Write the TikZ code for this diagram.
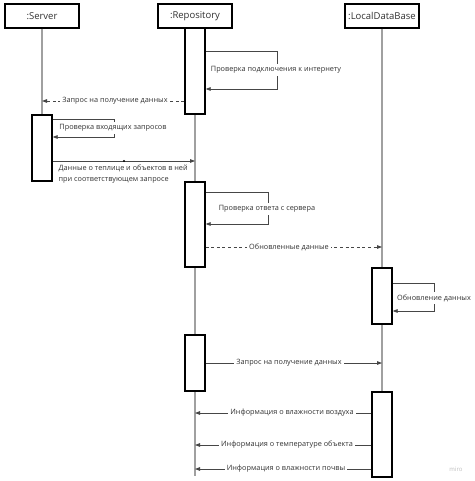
\documentclass[tikz,border=0pt]{standalone}
\usepackage{fontspec}
\setmainfont{Open Sans}
\usetikzlibrary{arrows.meta}
\definecolor{lifegray}{RGB}{160,160,160}
\definecolor{msggray}{RGB}{70,70,70}
\definecolor{txtgray}{RGB}{50,50,50}
\tikzset{
  objbox/.style={draw=black, line width=1.3pt, fill=white, minimum width=74pt, minimum height=24pt, inner sep=0pt, font=\fontsize{9.5}{11}\selectfont, text=txtgray},
  actbox/.style={draw=black, line width=1.3pt, fill=white, minimum width=20pt, inner sep=0pt},
  lifeline/.style={draw=lifegray, line width=1.2pt},
  msg/.style={draw=msggray, line width=0.8pt, -{Triangle[length=5pt,width=3.6pt]}},
  dmsg/.style={msg, dash pattern=on 3pt off 2.6pt},
  lbl/.style={fill=white, inner sep=2.2pt, font=\fontsize{7.3}{9}\selectfont, text=txtgray},
  lblleft/.style={inner sep=0pt, font=\fontsize{7.3}{11}\selectfont, text=txtgray, align=left, anchor=north west}
}
\begin{document}
\begin{tikzpicture}[x=1pt,y=-1pt]
\useasboundingbox (0,0) rectangle (474,481);
\fill[white] (0,0) rectangle (474,481);
% objects
\node[objbox] (srv) at (42,16) {:Server};
\node[objbox] (rep) at (195,16) {:Repository};
\node[objbox] (ldb) at (382,16) {:LocalDataBase};
% lifeline ends
\coordinate (repend) at (195,476);
% activations (positions only)
\coordinate (pS1) at (42,148);
\coordinate (pR1) at (195,71);
\coordinate (pR2) at (195,224.5);
\coordinate (pL1) at (382,296);
\coordinate (pR3) at (195,363);
\coordinate (pL2) at (382,434.5);
% lifelines
\draw[lifeline] (rep.south) -- (repend);
\draw[lifeline] (srv.south) -- (42,115);
\draw[lifeline] (ldb.south) -- (382,392);
% activation boxes
\node[actbox, minimum height=86pt] (R1) at (pR1) {};
\node[actbox, minimum height=66pt] (S1) at (pS1) {};
\node[actbox, minimum height=85pt] (R2) at (pR2) {};
\node[actbox, minimum height=56pt] (L1) at (pL1) {};
\node[actbox, minimum height=56pt] (R3) at (pR3) {};
\node[actbox, minimum height=85pt] (L2) at (pL2) {};

% self loop R1
\draw[msg] (R1.east |- 0,51) -- (277,51) -- (277,89) -- (R1.east |- 0,89);
\node[lbl] (t1) at (276,70) {Проверка подключения к интернету};
% dashed request to server
\draw[dmsg] (R1.west |- 0,101) -- (srv.south |- 0,101);
\node[lbl] (t2) at (115,101) {Запрос на получение данных};
% self loop S1
\draw[msg] (S1.east |- 0,119) -- (114,119) -- (114,137) -- (S1.east |- 0,137);
\node[lbl] (t3) at (113,128) {Проверка входящих запросов};
% data to repository
\draw[msg] (S1.east |- 0,161) -- (rep.south |- 0,161);
\fill[black] (124,161) circle (1.1pt);
\node[lblleft] (t4) at (58.5,164.5) {Данные о теплице и объектов в ней\\при соответствующем запросе};
% self loop R2
\draw[msg] (R2.east |- 0,192) -- (268,192) -- (268,224) -- (R2.east |- 0,224);
\node[lbl] (t5) at (267,209) {Проверка ответа с сервера};
% updated data
\draw[dmsg] (R2.east |- 0,247) -- (ldb.south |- 0,247);
\node[lbl] (t6) at (289,247) {Обновленные данные};
% self loop L1
\draw[msg] (L1.east |- 0,283) -- (434,283) -- (434,311) -- (L1.east |- 0,311);
\node[lbl] (t7) at (434,298) {Обновление данных};
% request to LDB
\draw[msg] (R3.east |- 0,363) -- (ldb.south |- 0,363);
\node[lbl] (t8) at (289,363) {Запрос на получение данных};
% responses
\draw[msg] (L2.west |- 0,413) -- (rep.south |- 0,413);
\node[lbl] (t9) at (292,413) {Информация о влажности воздуха};
\draw[msg] (L2.west |- 0,445) -- (rep.south |- 0,445);
\node[lbl] (t10) at (287,445) {Информация о температуре объекта};
\draw[msg] (L2.west |- 0,469) -- (rep.south |- 0,469);
\node[lbl] (t11) at (286,469) {Информация о влажности почвы};
% watermark
\node[font=\fontsize{6}{7}\selectfont, text=black!25, inner sep=0pt] (wm) at (456,469) {miro};
\end{tikzpicture}
\end{document}
